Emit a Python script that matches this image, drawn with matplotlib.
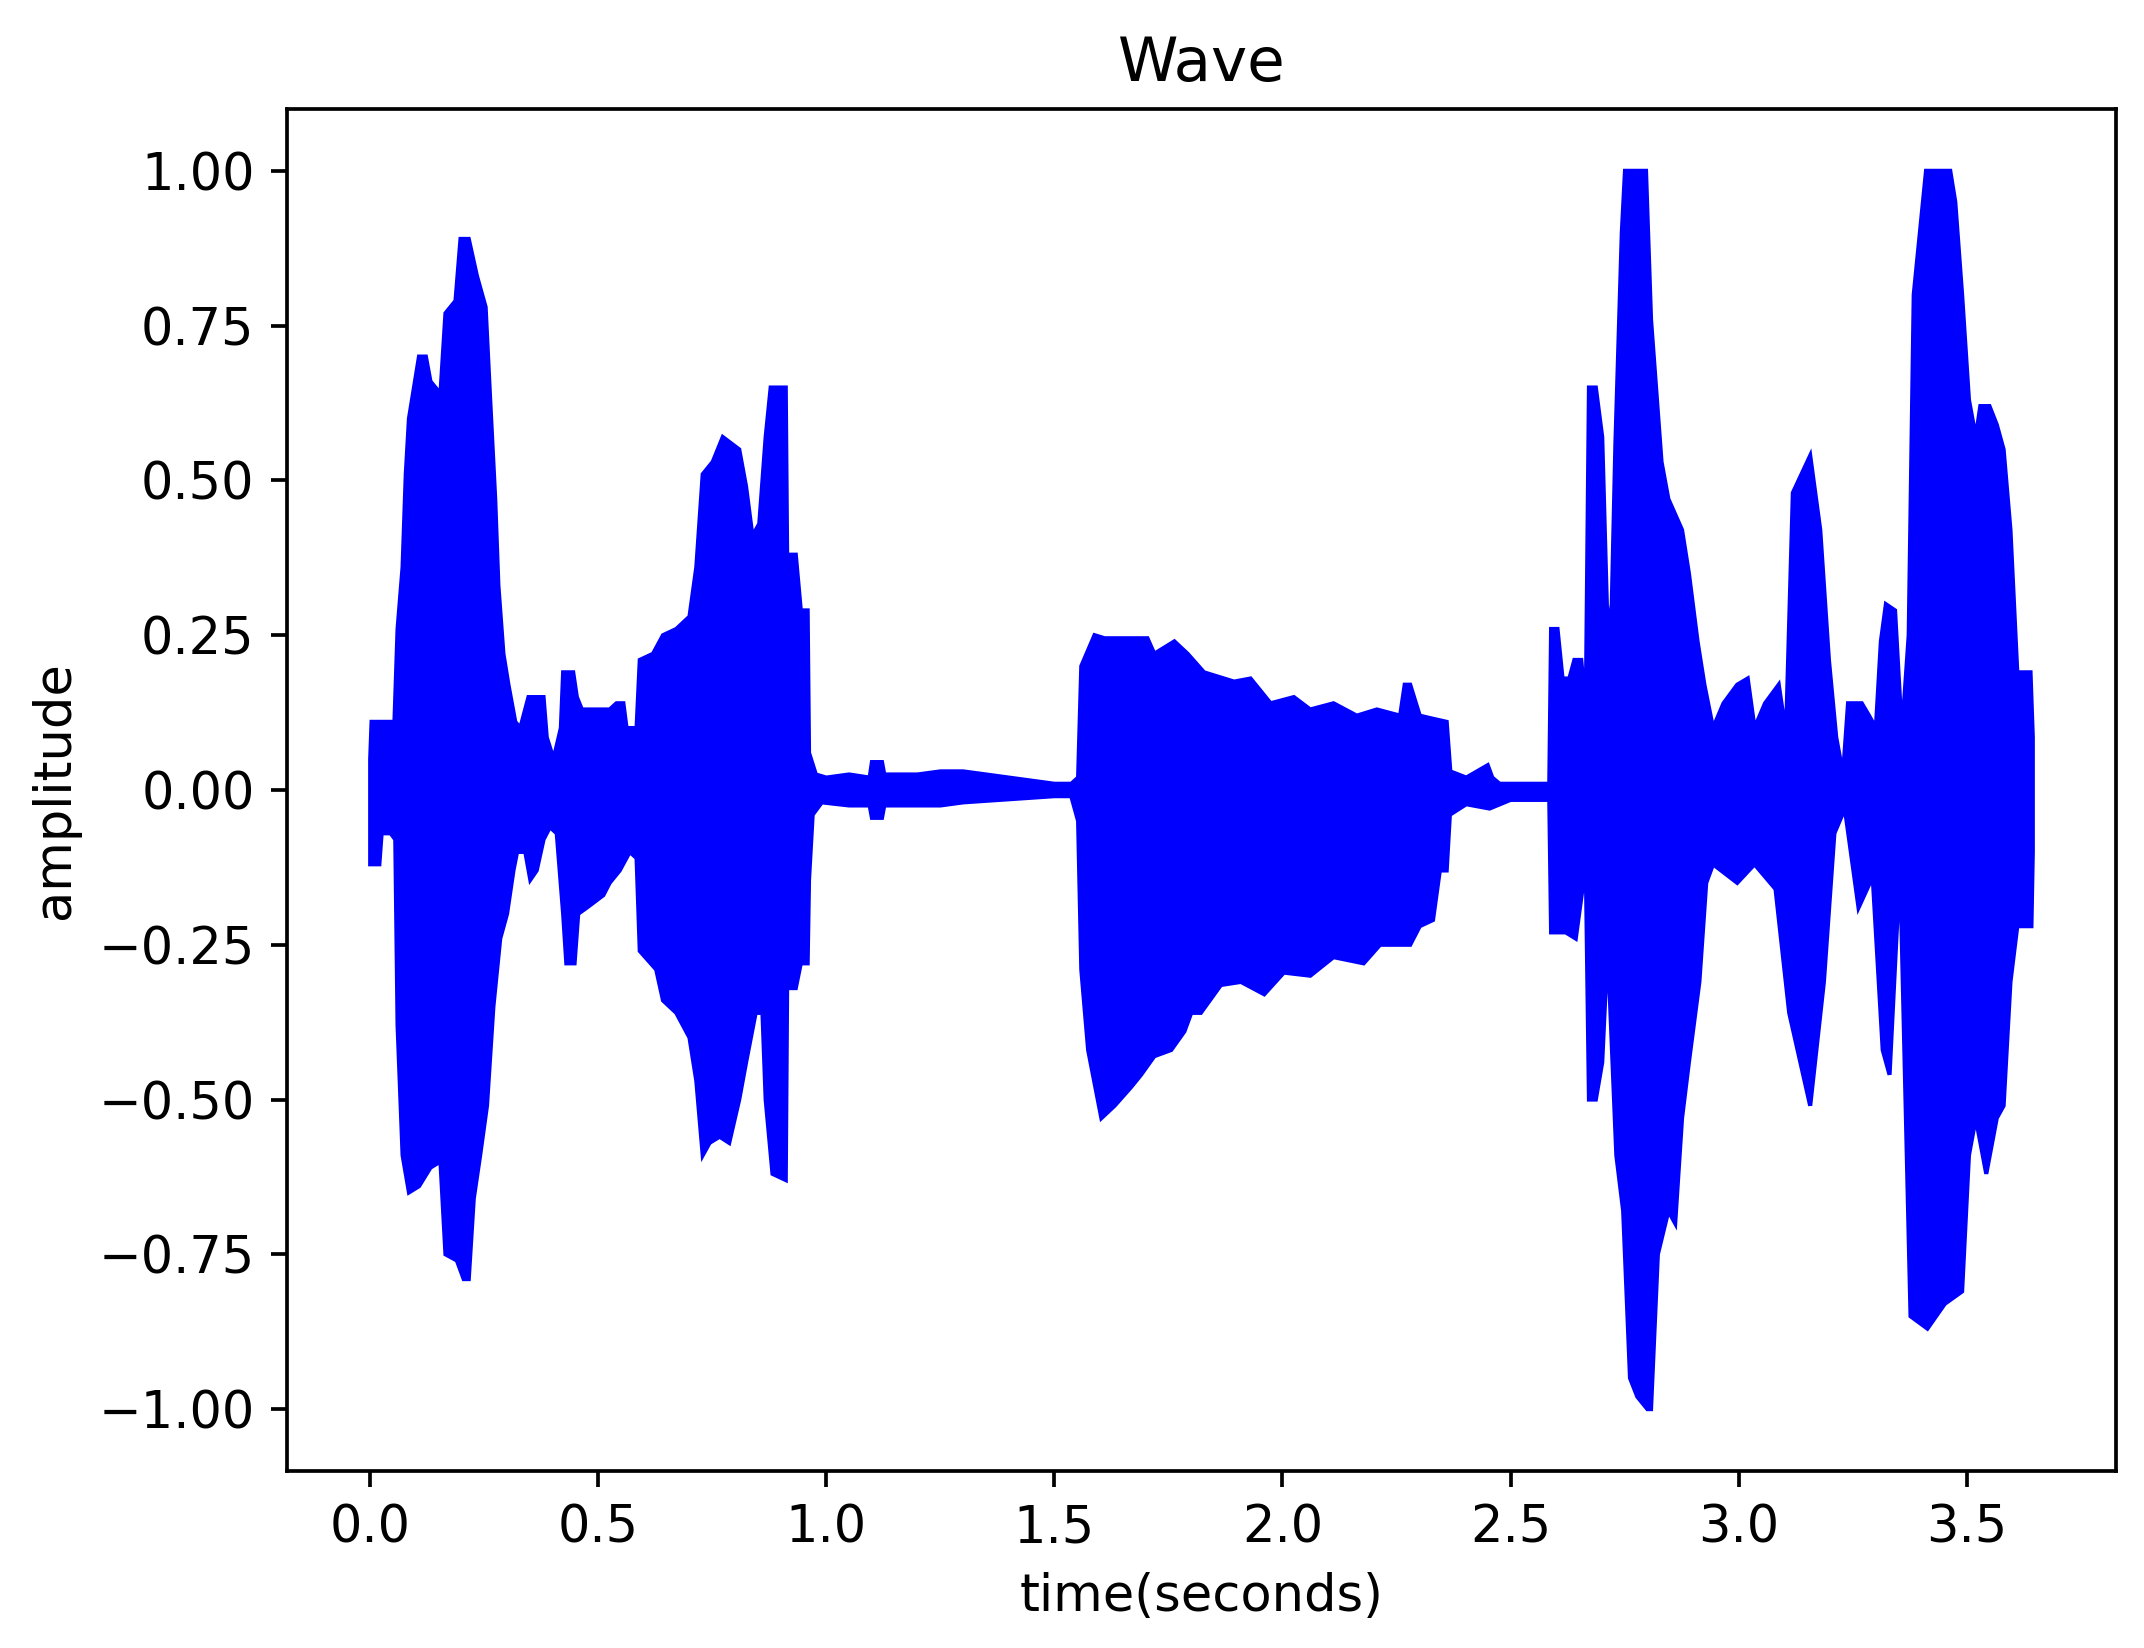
import numpy as np
import matplotlib
matplotlib.use("Agg")
import matplotlib.pyplot as plt
from matplotlib.ticker import MultipleLocator

# Upper envelope of the waveform (time in seconds, amplitude)
t_upper = [0.000, 0.003, 0.045, 0.052, 0.060, 0.071, 0.078, 0.085, 0.107, 0.122,
           0.132, 0.154, 0.165, 0.187, 0.198, 0.216, 0.234, 0.253, 0.263, 0.274,
           0.281, 0.292, 0.303, 0.318, 0.329, 0.347, 0.380, 0.387, 0.402, 0.418,
           0.423, 0.445, 0.453, 0.464, 0.482, 0.525, 0.540, 0.555, 0.562, 0.584,
           0.591, 0.620, 0.642, 0.671, 0.700, 0.715, 0.729, 0.751, 0.773, 0.809,
           0.824, 0.838, 0.853, 0.867, 0.878, 0.911, 0.914, 0.933, 0.944, 0.959,
           0.962, 0.977, 1.000, 1.050, 1.095, 1.100, 1.122, 1.127, 1.200, 1.250,
           1.300, 1.350, 1.400, 1.450, 1.500, 1.537, 1.552, 1.559, 1.588, 1.610,
           1.704, 1.719, 1.763, 1.792, 1.828, 1.894, 1.930, 1.974, 2.025, 2.061,
           2.112, 2.163, 2.207, 2.258, 2.268, 2.280, 2.301, 2.330, 2.360, 2.368,
           2.403, 2.450, 2.460, 2.476, 2.585, 2.589, 2.603, 2.614, 2.629, 2.640,
           2.655, 2.665, 2.672, 2.687, 2.701, 2.713, 2.722, 2.730, 2.744, 2.751,
           2.797, 2.808, 2.831, 2.846, 2.876, 2.891, 2.910, 2.925, 2.944, 2.967,
           2.997, 3.020, 3.035, 3.058, 3.088, 3.104, 3.119, 3.157, 3.179, 3.198,
           3.214, 3.229, 3.240, 3.270, 3.286, 3.301, 3.312, 3.323, 3.343, 3.358,
           3.373, 3.384, 3.411, 3.464, 3.475, 3.490, 3.505, 3.520, 3.530, 3.550,
           3.566, 3.581, 3.596, 3.611, 3.640, 3.645]
amp_upper = [0.05, 0.11, 0.11, 0.085, 0.26, 0.36, 0.51, 0.60, 0.70, 0.70,
             0.66, 0.64, 0.77, 0.79, 0.89, 0.89, 0.83, 0.78, 0.63, 0.47,
             0.33, 0.22, 0.17, 0.11, 0.10, 0.15, 0.15, 0.085, 0.05, 0.10,
             0.19, 0.19, 0.15, 0.13, 0.13, 0.13, 0.14, 0.14, 0.10, 0.10,
             0.21, 0.22, 0.25, 0.26, 0.28, 0.36, 0.51, 0.53, 0.57, 0.55,
             0.49, 0.41, 0.43, 0.57, 0.65, 0.65, 0.38, 0.38, 0.29, 0.29,
             0.06, 0.025, 0.02, 0.025, 0.02, 0.045, 0.045, 0.025, 0.025, 0.03,
             0.03, 0.025, 0.02, 0.015, 0.01, 0.01, 0.02, 0.20, 0.25, 0.245,
             0.245, 0.22, 0.24, 0.22, 0.19, 0.175, 0.18, 0.14, 0.15, 0.13,
             0.14, 0.12, 0.13, 0.12, 0.17, 0.17, 0.12, 0.115, 0.11, 0.03,
             0.02, 0.04, 0.02, 0.01, 0.01, 0.26, 0.26, 0.18, 0.18, 0.21,
             0.21, 0.13, 0.65, 0.65, 0.57, 0.25, 0.30, 0.56, 0.90, 1.00,
             1.00, 0.76, 0.53, 0.47, 0.42, 0.35, 0.24, 0.17, 0.10, 0.14,
             0.17, 0.18, 0.10, 0.14, 0.17, 0.09, 0.48, 0.54, 0.42, 0.21,
             0.085, 0.025, 0.14, 0.14, 0.12, 0.10, 0.24, 0.30, 0.29, 0.09,
             0.25, 0.80, 1.00, 1.00, 0.95, 0.80, 0.63, 0.57, 0.62, 0.62,
             0.59, 0.55, 0.42, 0.19, 0.19, 0.085]

# Lower envelope of the waveform
t_lower = [0.000, 0.003, 0.020, 0.025, 0.045, 0.055, 0.060, 0.071, 0.085, 0.107,
           0.132, 0.154, 0.165, 0.190, 0.205, 0.216, 0.227, 0.241, 0.256, 0.270,
           0.285, 0.300, 0.314, 0.322, 0.340, 0.351, 0.365, 0.380, 0.394, 0.409,
           0.423, 0.430, 0.448, 0.456, 0.475, 0.511, 0.525, 0.547, 0.569, 0.584,
           0.591, 0.627, 0.642, 0.671, 0.700, 0.715, 0.729, 0.744, 0.766, 0.787,
           0.809, 0.824, 0.845, 0.860, 0.867, 0.882, 0.911, 0.914, 0.933, 0.944,
           0.959, 0.962, 0.970, 0.990, 1.050, 1.095, 1.100, 1.122, 1.127, 1.250,
           1.300, 1.400, 1.500, 1.537, 1.552, 1.559, 1.574, 1.603, 1.632, 1.668,
           1.690, 1.719, 1.756, 1.785, 1.800, 1.821, 1.865, 1.909, 1.960, 2.003,
           2.061, 2.112, 2.178, 2.214, 2.280, 2.301, 2.330, 2.345, 2.360, 2.367,
           2.403, 2.454, 2.500, 2.585, 2.589, 2.621, 2.643, 2.665, 2.672, 2.687,
           2.701, 2.713, 2.732, 2.747, 2.762, 2.778, 2.800, 2.808, 2.823, 2.846,
           2.861, 2.876, 2.891, 2.914, 2.929, 2.944, 2.997, 3.035, 3.081, 3.111,
           3.157, 3.187, 3.210, 3.233, 3.263, 3.294, 3.316, 3.331, 3.354, 3.377,
           3.414, 3.452, 3.490, 3.505, 3.520, 3.543, 3.566, 3.581, 3.596, 3.611,
           3.642, 3.645]
amp_lower = [-0.12, -0.12, -0.12, -0.07, -0.07, -0.08, -0.38, -0.59, -0.65, -0.64,
             -0.61, -0.60, -0.75, -0.76, -0.79, -0.79, -0.66, -0.59, -0.51, -0.35,
             -0.24, -0.20, -0.13, -0.10, -0.10, -0.145, -0.13, -0.08, -0.06, -0.07,
             -0.20, -0.28, -0.28, -0.20, -0.19, -0.17, -0.15, -0.13, -0.10, -0.11,
             -0.26, -0.29, -0.34, -0.36, -0.40, -0.47, -0.59, -0.57, -0.56, -0.57,
             -0.50, -0.44, -0.36, -0.36, -0.50, -0.62, -0.63, -0.32, -0.32, -0.28,
             -0.28, -0.145, -0.04, -0.02, -0.025, -0.025, -0.045, -0.045, -0.025, -0.025,
             -0.02, -0.015, -0.01, -0.01, -0.05, -0.29, -0.42, -0.53, -0.51, -0.48,
             -0.46, -0.43, -0.42, -0.39, -0.36, -0.36, -0.315, -0.31, -0.33, -0.295,
             -0.30, -0.27, -0.28, -0.25, -0.25, -0.22, -0.21, -0.13, -0.13, -0.04,
             -0.023, -0.03, -0.016, -0.016, -0.23, -0.23, -0.24, -0.12, -0.50, -0.50,
             -0.44, -0.25, -0.59, -0.68, -0.95, -0.98, -1.00, -1.00, -0.75, -0.68,
             -0.70, -0.53, -0.44, -0.31, -0.15, -0.12, -0.15, -0.12, -0.16, -0.36,
             -0.51, -0.31, -0.07, -0.03, -0.19, -0.14, -0.42, -0.46, -0.12, -0.85,
             -0.87, -0.83, -0.81, -0.59, -0.53, -0.62, -0.53, -0.51, -0.31, -0.22,
             -0.22, -0.10]

title = "Wave"
xlabel = "time(seconds)"
ylabel = "amplitude"

S = 3.34      # line/tick scale
F = 3.67      # text scale
plt.rcParams.update({
    "font.family": "DejaVu Sans",
    "font.size": 10 * F,
    "axes.linewidth": 0.8 * S,
    "xtick.major.size": 3.5 * S,
    "ytick.major.size": 3.5 * S,
    "xtick.major.width": 0.8 * S,
    "ytick.major.width": 0.8 * S,
    "xtick.major.pad": 3.5 * S,
    "ytick.major.pad": 3.5 * S,
})

fig = plt.figure(figsize=(21.44, 16.48), dpi=100)
ax = fig.add_axes([0.1339, 0.1074, 0.9869 - 0.1339, 0.9339 - 0.1074])

xs = np.concatenate([t_upper, t_lower[::-1]])
ys = np.concatenate([amp_upper, amp_lower[::-1]])
ax.fill(xs, ys, facecolor="b", edgecolor="b", linewidth=3)

ax.yaxis.set_major_locator(MultipleLocator(0.25))
ax.xaxis.set_major_locator(MultipleLocator(0.5))
ax.set_title(title, fontsize=12 * F, pad=6 * S)
ax.set_xlabel(xlabel, labelpad=4 * S)
ax.set_ylabel(ylabel, labelpad=4 * S)

fig.savefig("out.png", dpi=100)
